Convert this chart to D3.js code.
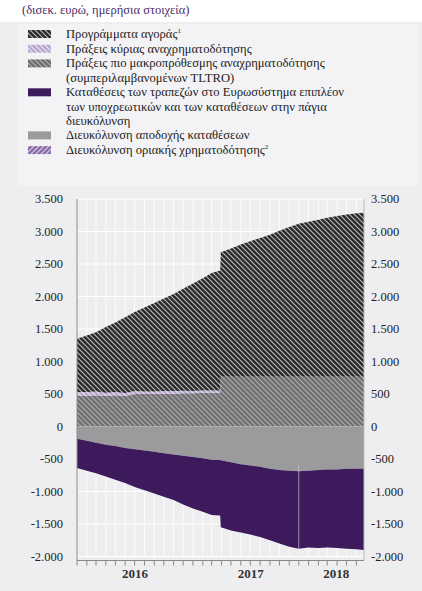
<!DOCTYPE html>
<html><head><meta charset="utf-8">
<script src="https://cdn.jsdelivr.net/npm/d3@7"></script>
<style>body{margin:0;background:#fff}svg{display:block}text{font-family:'Liberation Serif','DejaVu Serif',serif}</style>
</head><body><svg id="c" width="422" height="591"></svg>
<script>
const dates = ["2016-01-01","2016-02-01","2016-03-01","2016-04-01","2016-05-01","2016-06-01","2016-07-01","2016-08-01","2016-09-01","2016-10-01","2016-11-01","2016-12-01","2017-01-01","2017-02-01","2017-03-01","2017-03-28","2017-03-30","2017-05-01","2017-06-01","2017-07-01","2017-08-01","2017-09-01","2017-10-01","2017-11-01","2017-12-01","2018-01-01","2018-02-01","2018-03-01","2018-04-01","2018-05-01","2018-06-01","2018-06-25"];
const ltro = [470,470,480,470,480,470,500,500,500,505,505,510,510,520,520,520,760,760,760,760,760,760,760,760,760,760,760,760,760,760,760,760];
const mro = [60,60,60,50,50,45,45,40,40,40,40,40,35,35,35,35,5,5,5,5,5,5,5,5,5,5,5,5,5,5,5,5];
const purchases = [820,870,910,1010,1070,1165,1215,1290,1360,1425,1495,1570,1655,1725,1805,1845,1915,1975,2035,2085,2135,2185,2245,2305,2355,2385,2415,2445,2475,2495,2515,2525];
const depositFacility = [-190,-220,-250,-280,-300,-330,-350,-370,-390,-410,-430,-450,-470,-490,-510,-515,-520,-550,-580,-600,-620,-650,-670,-680,-690,-680,-670,-660,-660,-650,-650,-650];
const excessReserves = [-450,-460,-470,-490,-520,-540,-580,-610,-640,-670,-700,-750,-790,-820,-850,-855,-1030,-1050,-1050,-1060,-1080,-1100,-1130,-1170,-1190,-1180,-1200,-1200,-1210,-1230,-1240,-1250];
const yTicks = [3500,3000,2500,2000,1500,1000,500,0,-500,-1000,-1500,-2000];
const years = ["2016","2017","2018"];
const legendItems = [
 {lines:["Προγράμματα αγοράς"],sup:"1",fill:"url(#hDark)"},
 {lines:["Πράξεις κύριας αναχρηματοδότησης"],fill:"url(#hLav)"},
 {lines:["Πράξεις πιο μακροπρόθεσμης αναχρηματοδότησης","(συμπεριλαμβανομένων TLTRO)"],fill:"url(#hGray)"},
 {lines:["Καταθέσεις των τραπεζών στο Ευρωσύστημα επιπλέον","των υποχρεωτικών και των καταθέσεων στην πάγια","διευκόλυνση"],fill:"#3d1a5b"},
 {lines:["Διευκόλυνση αποδοχής καταθέσεων"],fill:"#9b9b9d"},
 {lines:["Διευκόλυνση οριακής χρηματοδότησης"],sup:"2",fill:"url(#hPur)"}
];

const svg = d3.select("#c");
const defs = svg.append("defs");
function hatch(id, bg, fg, w){
  const p = defs.append("pattern").attr("id",id).attr("patternUnits","userSpaceOnUse").attr("width",5).attr("height",5);
  p.append("rect").attr("width",5).attr("height",5).attr("fill",bg);
  p.append("path").attr("d","M-1,4 l2,2 M0,0 l5,5 M4,-1 l2,2").attr("stroke",fg).attr("stroke-width",w);
}
hatch("hDark","#2a2a2a","#bdbdbd",1.1);
hatch("hGray","#6e6e70","#b0b0b2",1.1);
hatch("hLav","#b9a6cf","#ece4f3",1.2);
const pp = defs.append("pattern").attr("id","hPur").attr("patternUnits","userSpaceOnUse").attr("width",5).attr("height",5);
pp.append("rect").attr("width",5).attr("height",5).attr("fill","#8a6aa8");
pp.append("path").attr("d","M-1,1 l2,-2 M0,5 l5,-5 M4,6 l2,-2").attr("stroke","#d8cce6").attr("stroke-width",1.2);

svg.append("rect").attr("x",0).attr("y",22).attr("width",422).attr("height",569).attr("fill","#eeeef1");
svg.append("rect").attr("x",18).attr("y",24).attr("width",400).attr("height",162).attr("fill","#f3f3f5");
svg.append("text").attr("x",22).attr("y",14).attr("font-size",12.5).attr("fill","#4b2b6b").text("(δισεκ. ευρώ, ημερήσια στοιχεία)");

let ly = 38;
legendItems.forEach(it=>{
  svg.append("rect").attr("x",28).attr("y",ly-8).attr("width",23).attr("height",8).attr("fill",it.fill);
  it.lines.forEach((l,i)=>{
    const t = svg.append("text").attr("x",66).attr("y",ly+i*14.2).attr("font-size",12.6).attr("fill","#222").text(l);
    if(it.sup && i===0) t.append("tspan").attr("font-size",7).attr("dy",-5).text(it.sup);
  });
  ly += it.lines.length*14.2+0.5;
});

const parse = d3.utcParse("%Y-%m-%d");
const data = dates.map((d,i)=>({date:parse(d),purchases:purchases[i],mro:mro[i],ltro:ltro[i],dep:depositFacility[i],exc:excessReserves[i]}));
const x = d3.scaleUtc().domain([parse("2016-01-01"),parse("2018-06-25")]).range([77,364]);
const y = d3.scaleLinear().domain([-2000,3500]).range([556.5,199]);

const g = svg.append("g");
g.selectAll(".vg").data(d3.utcMonth.range(parse("2016-01-01"),parse("2018-07-01"))).join("line")
 .attr("x1",d=>x(d)).attr("x2",d=>x(d)).attr("y1",y(3500)).attr("y2",y(-2000)).attr("stroke","#fff").attr("stroke-width",0.8);
g.selectAll(".hg").data(yTicks).join("line").attr("x1",77).attr("x2",364).attr("y1",d=>y(d)).attr("y2",d=>y(d)).attr("stroke","#fff").attr("stroke-width",1);

const area = (lo,hi)=>d3.area().x(d=>x(d.date)).y0(d=>y(lo(d))).y1(d=>y(hi(d)));
svg.append("path").datum(data).attr("fill","url(#hGray)").attr("d",area(d=>0,d=>d.ltro));
svg.append("path").datum(data).attr("fill","url(#hLav)").attr("d",area(d=>d.ltro,d=>d.ltro+d.mro));
svg.append("path").datum(data).attr("fill","url(#hDark)").attr("d",area(d=>d.ltro+d.mro,d=>d.ltro+d.mro+d.purchases));
svg.append("path").datum(data).attr("fill","#9b9b9d").attr("d",area(d=>0,d=>d.dep));
svg.append("path").datum(data).attr("fill","#3d1a5b").attr("d",area(d=>d.dep,d=>d.dep+d.exc));
svg.append("line").attr("x1",x(parse("2017-12-01"))).attr("x2",x(parse("2017-12-01"))).attr("y1",y(-600)).attr("y2",y(-2000)).attr("stroke","#ddd").attr("stroke-width",0.6);

svg.append("line").attr("x1",77).attr("x2",77).attr("y1",y(3500)).attr("y2",y(-2000)+4).attr("stroke","#888");
svg.append("line").attr("x1",364).attr("x2",364).attr("y1",y(3500)).attr("y2",y(-2000)+4).attr("stroke","#bbb");
svg.append("line").attr("x1",77).attr("x2",364).attr("y1",y(-2000)+4).attr("y2",y(-2000)+4).attr("stroke","#888");
svg.selectAll(".mt").data(d3.utcMonth.range(parse("2016-01-01"),parse("2018-07-01"))).join("line")
 .attr("x1",d=>x(d)).attr("x2",d=>x(d)).attr("y1",y(-2000)+4).attr("y2",y(-2000)+9).attr("stroke","#888");
const fmt = v=>d3.format(",")(v).replace(/,/g,".").replace("−","-");
svg.selectAll(".yl").data(yTicks).join("text").attr("x",63).attr("y",d=>y(d)+4).attr("text-anchor","end")
 .attr("font-size",12.5).attr("fill","#222").text(fmt);
svg.selectAll(".yr").data(yTicks).join("text").attr("x",371).attr("y",d=>y(d)+4)
 .attr("font-size",12.5).attr("fill","#222").text(fmt);
const yc = [[parse("2016-01-01"),parse("2017-01-01")],[parse("2017-01-01"),parse("2018-01-01")],[parse("2018-01-01"),parse("2018-06-25")]];
svg.selectAll(".xl").data(years).join("text").attr("x",(d,i)=>(x(yc[i][0])+x(yc[i][1]))/2).attr("y",578)
 .attr("text-anchor","middle").attr("font-size",13).attr("font-weight","bold").attr("fill","#333").text(d=>d);
</script></body></html>
